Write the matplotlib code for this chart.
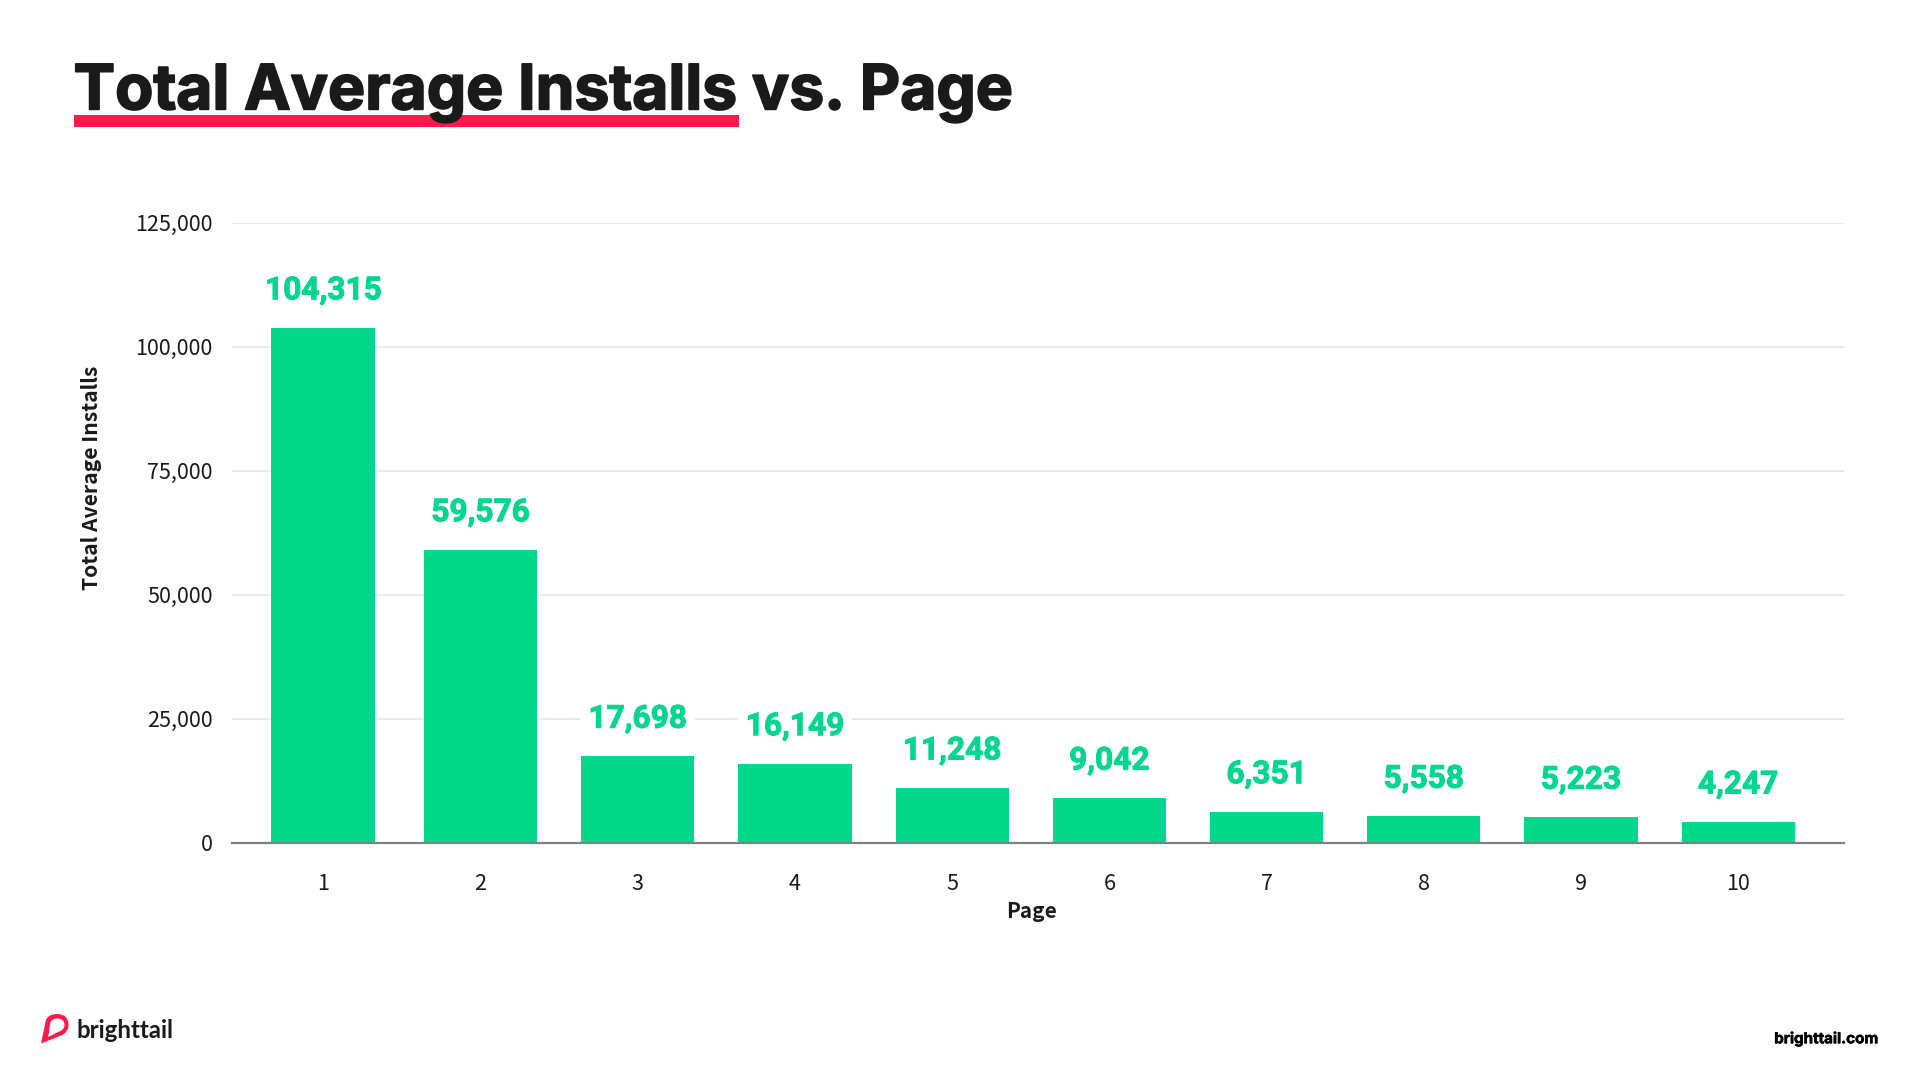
import matplotlib
matplotlib.use('Agg')
from matplotlib import pyplot as plt
from matplotlib import patheffects
from matplotlib.patches import Rectangle, PathPatch
from matplotlib.path import Path
from matplotlib.ticker import FuncFormatter

pages = [1, 2, 3, 4, 5, 6, 7, 8, 9, 10]
label_values = [104315, 59576, 17698, 16149, 11248, 9042, 6351, 5558, 5223, 4247]
bar_values = [103800, 59030, 17400, 15900, 11000, 8950, 6200, 5300, 5100, 4150]
y_ticks = [0, 25000, 50000, 75000, 100000, 125000]

BAR_WIDTHS = [0.66] + [0.72] * 9
GREEN = '#00d78c'
RED = '#ff1a4b'
DARK = '#1a1a1a'
W, H = 1920, 1080
BODY_FONT = 'Noto Sans CJK JP'
HEAD_FONT = 'Inter'


def px_x(x):
    return x / W


def px_y(y):
    return 1 - y / H


def draw_logo(fig):
    # tip -> left -> top -> right -> tip, then the hole the other way round
    verts = [(41, 1043.5), (45.5, 1022), (47, 1014), (57, 1014), (68.5, 1014), (68.5, 1025),
             (68.5, 1033), (60, 1036), (41, 1043.5),
             (48.3, 1037), (58, 1032), (64.5, 1030), (64.5, 1025), (64.5, 1018.5), (57, 1018.5),
             (51, 1018.5), (50, 1024), (48.3, 1037)]
    codes = [Path.MOVETO, Path.LINETO, Path.CURVE3, Path.CURVE3, Path.CURVE3, Path.CURVE3,
             Path.CURVE3, Path.CURVE3, Path.CLOSEPOLY,
             Path.MOVETO, Path.LINETO, Path.CURVE3, Path.CURVE3, Path.CURVE3, Path.CURVE3,
             Path.CURVE3, Path.CURVE3, Path.CLOSEPOLY]
    mark = Path([(px_x(x), px_y(y)) for x, y in verts], codes)
    fig.add_artist(PathPatch(mark, transform=fig.transFigure, facecolor=RED, edgecolor='none'))
    fig.text(px_x(77), px_y(1030), 'brighttail', ha='left', va='center', fontsize=17.3,
             family='Lato', weight='bold', color=DARK)


def main():
    fig = plt.figure(figsize=(W / 100, H / 100), dpi=100, facecolor='white')
    ax = fig.add_axes([px_x(231.5), px_y(842.5), (1843.5 - 231.5) / W, (842.5 - 222.7) / H])

    ax.bar(pages, bar_values, width=BAR_WIDTHS, color=GREEN, zorder=3)
    for page, top, value in zip(pages, bar_values, label_values):
        text = ax.annotate(f'{value:,}', (page, top), xytext=(0, 16.2), textcoords='offset points',
                           ha='center', va='bottom', color=GREEN, fontsize=22.8,
                           family='Roboto', weight='bold', zorder=4,
                           bbox=dict(facecolor='white', edgecolor='none', pad=6))
        text.set_path_effects([patheffects.withStroke(linewidth=0.7, foreground=GREEN)])

    ax.set_xlim(0.416, 10.67)
    ax.set_ylim(0, 125000)
    ax.set_xticks(pages)
    ax.set_yticks(y_ticks)
    ax.yaxis.set_major_formatter(FuncFormatter(lambda v, _: f'{int(v):,}'))
    ax.grid(axis='y', color='#e3e3e3', linewidth=1.1, zorder=0)
    ax.tick_params(length=0, labelsize=15.5, colors=DARK)
    ax.tick_params(axis='y', pad=13.5)
    ax.tick_params(axis='x', pad=21.7)
    for label in ax.get_xticklabels() + ax.get_yticklabels():
        label.set_family(BODY_FONT)
    for side in ['top', 'right', 'left']:
        ax.spines[side].set_visible(False)
    ax.spines['bottom'].set_color('#808080')
    ax.spines['bottom'].set_linewidth(1.6)
    ax.spines['bottom'].set_zorder(5)

    fig.text(px_x(1031), px_y(911), 'Page', ha='center', va='center', fontsize=15,
             family=BODY_FONT, weight='bold', color=DARK)
    fig.text(px_x(92), px_y(478), 'Total Average Installs', rotation=90, ha='center', va='center',
             fontsize=15.2, family=BODY_FONT, weight='bold', color=DARK)

    # title underline sits behind the text
    fig.add_artist(Rectangle((px_x(74), px_y(126.7)), 665 / W, 11.7 / H, transform=fig.transFigure,
                             color=RED, lw=0, zorder=1))
    title = fig.text(px_x(73.5), px_y(109.3), 'Total Average Installs vs. Page', ha='left', va='baseline',
                     fontsize=44.9, family=HEAD_FONT, weight='bold', color=DARK, zorder=2)
    title.set_path_effects([patheffects.withStroke(linewidth=1.3, foreground=DARK)])

    draw_logo(fig)
    footer = fig.text(px_x(1879), px_y(1039), 'brighttail.com', ha='right', va='center', fontsize=10.9,
                      family=HEAD_FONT, weight='bold', color='black')
    footer.set_path_effects([patheffects.withStroke(linewidth=0.4, foreground='black')])

    fig.savefig('out.png', dpi=100, facecolor='white')


if __name__ == '__main__':
    main()
